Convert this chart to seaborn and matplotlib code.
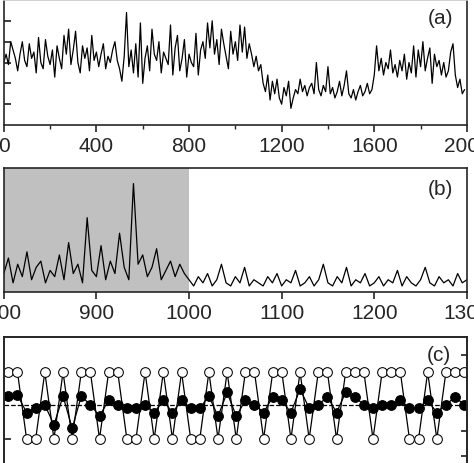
import numpy as np
import pandas as pd
import matplotlib
matplotlib.use("Agg")
import matplotlib.pyplot as plt
import seaborn as sns

sns.set_theme(style="ticks")
plt.rcParams['font.family'] = ['Liberation Sans', 'DejaVu Sans']

# panel (a): sampled every 10 steps, 0..1990
serie_a = [
    2.0, 2.4, 1.9, 3.0, 2.6, 2.2, 1.6, 2.4, 3.0, 2.1, 1.8, 2.9, 2.2, 2.5, 1.5, 3.2, 2.0, 1.7, 3.1, 2.3,
    1.9, 2.6, 1.3, 2.8, 2.2, 1.7, 3.3, 2.4, 3.6, 1.9, 2.6, 3.5, 2.0, 1.5, 2.8, 2.2, 2.7, 1.6, 3.3, 2.1,
    2.5, 1.8, 2.4, 2.9, 1.7, 2.3, 2.0, 2.6, 3.0, 2.1,
    1.7, 1.1, 2.3, 4.4, 1.8, 2.6, 1.5, 2.9, 1.3, 3.9, 1.0, 2.2, 2.8, 1.6, 3.6, 2.4, 2.1, 3.0, 1.5, 2.5,
    2.2, 1.9, 3.8, 1.4, 2.7, 3.3, 1.6, 2.2, 3.1, 1.3, 2.4, 2.0, 1.8, 3.4, 1.4, 2.6, 3.0, 2.2, 3.9, 2.7,
    4.0, 2.4, 3.1, 1.9, 3.6, 2.9, 2.3, 1.7, 3.5, 2.4,
    3.0, 2.1, 3.8, 2.5, 3.7, 2.2, 2.9, 2.4, 1.8, 2.3, 1.6, 1.9, 1.0, 0.6, 1.4, 0.2, 1.1, 0.5, 1.2, 0.3,
    0.0, 0.8, 0.4, 1.1, -0.2, 0.3, 0.7, 0.5, 1.2, 0.6, 0.9, 0.4, 0.8, 1.0, 0.5, 2.0, 0.7, 0.4, 0.9, 0.6,
    1.8, 0.5, 0.8, 0.3, 0.6, 1.1, 0.4, 0.9, 1.6, 0.5,
    0.3, 0.7, 0.2, 0.6, 0.9, 0.4, 0.6, 1.0, 0.5, 0.7, 1.4, 2.8, 1.6, 2.2, 1.4, 2.0, 1.7, 2.6, 1.5, 1.9,
    1.3, 2.1, 1.6, 2.4, 1.2, 2.0, 1.5, 2.8, 1.3, 2.6, 1.8, 3.0, 1.6, 2.2, 2.7, 1.0, 2.4, 1.8, 2.1, 1.4,
    2.0, 1.3, 1.6, 2.5, 2.9, 1.4, 0.8, 1.2, 0.5, 0.7,
]
t_a = np.arange(len(serie_a)) * 10

# panel (b): sampled every 5 steps, 800..1300
serie_b = [
    0.6, 1.1, 0.3, 0.9, 0.5, 1.3, 0.4, 0.8, 1.0, 0.3, 0.7, 0.5, 1.2, 0.4, 1.6, 0.6, 0.9, 0.3, 2.4, 0.7,
    0.5, 1.5, 0.4, 1.0, 0.6, 1.9, 0.8, 0.4, 3.5, 0.9, 1.2, 0.5, 0.8, 1.4, 0.4, 0.7, 1.0, 0.5, 0.9, 0.6,
    0.4, 0.2, 0.5, 0.3, 0.6, 0.2, 0.4, 0.9, 0.3, 0.2, 0.5, 0.3, 0.8, 0.2, 0.4, 0.3, 0.2, 0.5, 0.3, 0.6,
    0.2, 0.4, 0.3, 0.7, 0.2, 0.3, 0.5, 0.2, 0.4, 0.9, 0.3, 0.2, 0.5, 0.3, 0.8, 0.2, 0.4, 0.3, 0.6, 0.2,
    0.3, 0.5, 0.2, 0.4, 0.3, 0.7, 0.2, 0.5, 0.3, 0.2, 0.4, 0.8, 0.3, 0.2, 0.5, 0.3, 0.4, 0.2, 0.6, 0.3, 0.4,
]
t_b = 800 + np.arange(len(serie_b)) * 5

# panel (c): open = alternating extremes, filled = mean
abiertos = [1, 1, -1, -1, 1, -1, 1, -1, 1, 1, -1, 1, 1, -1, -1, 1, -1, 1, -1, 1, -1, -1, 1, -1, 1, -1,
            1, 1, -1, 1, 1, -1, 1, -1, 1, 1, -1, 1, 1, 1, -1, 1, 1, 1, -1, -1, 1, -1, 1, 1, 1]
rellenos = [0.28, 0.31, -0.21, -0.08, 0.02, -0.58, 0.28, -0.68, 0.28, 0.02, -0.32, 0.16, 0.02, -0.08,
            -0.08, 0.02, -0.21, 0.15, -0.21, 0.15, -0.08, -0.08, 0.28, -0.32, 0.39, -0.32, 0.15, 0.02,
            -0.21, 0.26, 0.15, -0.21, 0.49, -0.08, 0.02, 0.26, -0.21, 0.39, 0.26, 0.02, -0.08, 0.02,
            0.02, 0.15, -0.08, -0.08, 0.15, -0.21, 0.02, 0.26, 0.02]
idx_c = np.arange(len(abiertos))

fig = plt.figure(figsize=(4.74, 4.63), dpi=100)
ax_a = fig.add_axes([0.008, 0.73, 0.977, 0.27])
ax_b = fig.add_axes([0.008, 0.369, 0.977, 0.268])
ax_c = fig.add_axes([0.008, -0.02, 0.977, 0.292])

sns.lineplot(x=t_a, y=serie_a, ax=ax_a, color='black', lw=0.9)
ax_a.set_xlim(0, 2000)
ax_a.set_ylim(-1, 5)
ax_a.set_xticks(np.arange(0, 2001, 400))
ax_a.set_xticks(np.arange(0, 2001, 200), minor=True)
ax_a.set_yticks([0, 1, 2, 3, 4])
ax_a.text(0.97, 0.85, '(a)', transform=ax_a.transAxes, ha='right', va='center', fontsize=15)

ax_b.axvspan(800, 1000, color='#c0c0c0', lw=0)
sns.lineplot(x=t_b, y=serie_b, ax=ax_b, color='black', lw=0.9)
ax_b.set_xlim(800, 1300)
ax_b.set_ylim(0, 4)
ax_b.set_xticks(np.arange(800, 1301, 100))
ax_b.set_yticks([1, 2, 3])
ax_b.text(0.97, 0.83, '(b)', transform=ax_b.transAxes, ha='right', va='center', fontsize=15)

ax_c.axhline(0, color='black', ls='--', lw=0.9)
sns.lineplot(x=idx_c, y=abiertos, ax=ax_c, color='black', lw=0.9, marker='o', markersize=7,
             markerfacecolor='white', markeredgecolor='black')
sns.lineplot(x=idx_c, y=rellenos, ax=ax_c, color='black', lw=0.9, marker='o', markersize=7,
             markerfacecolor='black', markeredgecolor='black')
ax_c.set_xlim(-0.5, 50.3)
ax_c.set_ylim(-2, 2.05)
ax_c.set_xticks([])
ax_c.set_yticks([-1, 1])
ax_c.text(0.965, 0.86, '(c)', transform=ax_c.transAxes, ha='right', va='center', fontsize=15)
ax_r = ax_c.twinx()
ax_r.set_ylim(-2, 2.05)
ax_r.set_yticks([-1.5, -0.75, 1.5])
ax_r.tick_params(axis='y', direction='in', length=4, labelright=False)

for ax in (ax_a, ax_b, ax_c):
    for s in ax.spines.values():
        s.set_linewidth(1.2)
        s.set_visible(True)
    ax.tick_params(axis='x', direction='out', length=5, width=1.2, labelsize=15)
    ax.tick_params(axis='x', which='minor', direction='out', length=3)
    ax.tick_params(axis='y', direction='in', length=5, labelleft=False)
ax_a.spines['top'].set_color('#c8c8c8')

fig.savefig('out.png', dpi=100)
